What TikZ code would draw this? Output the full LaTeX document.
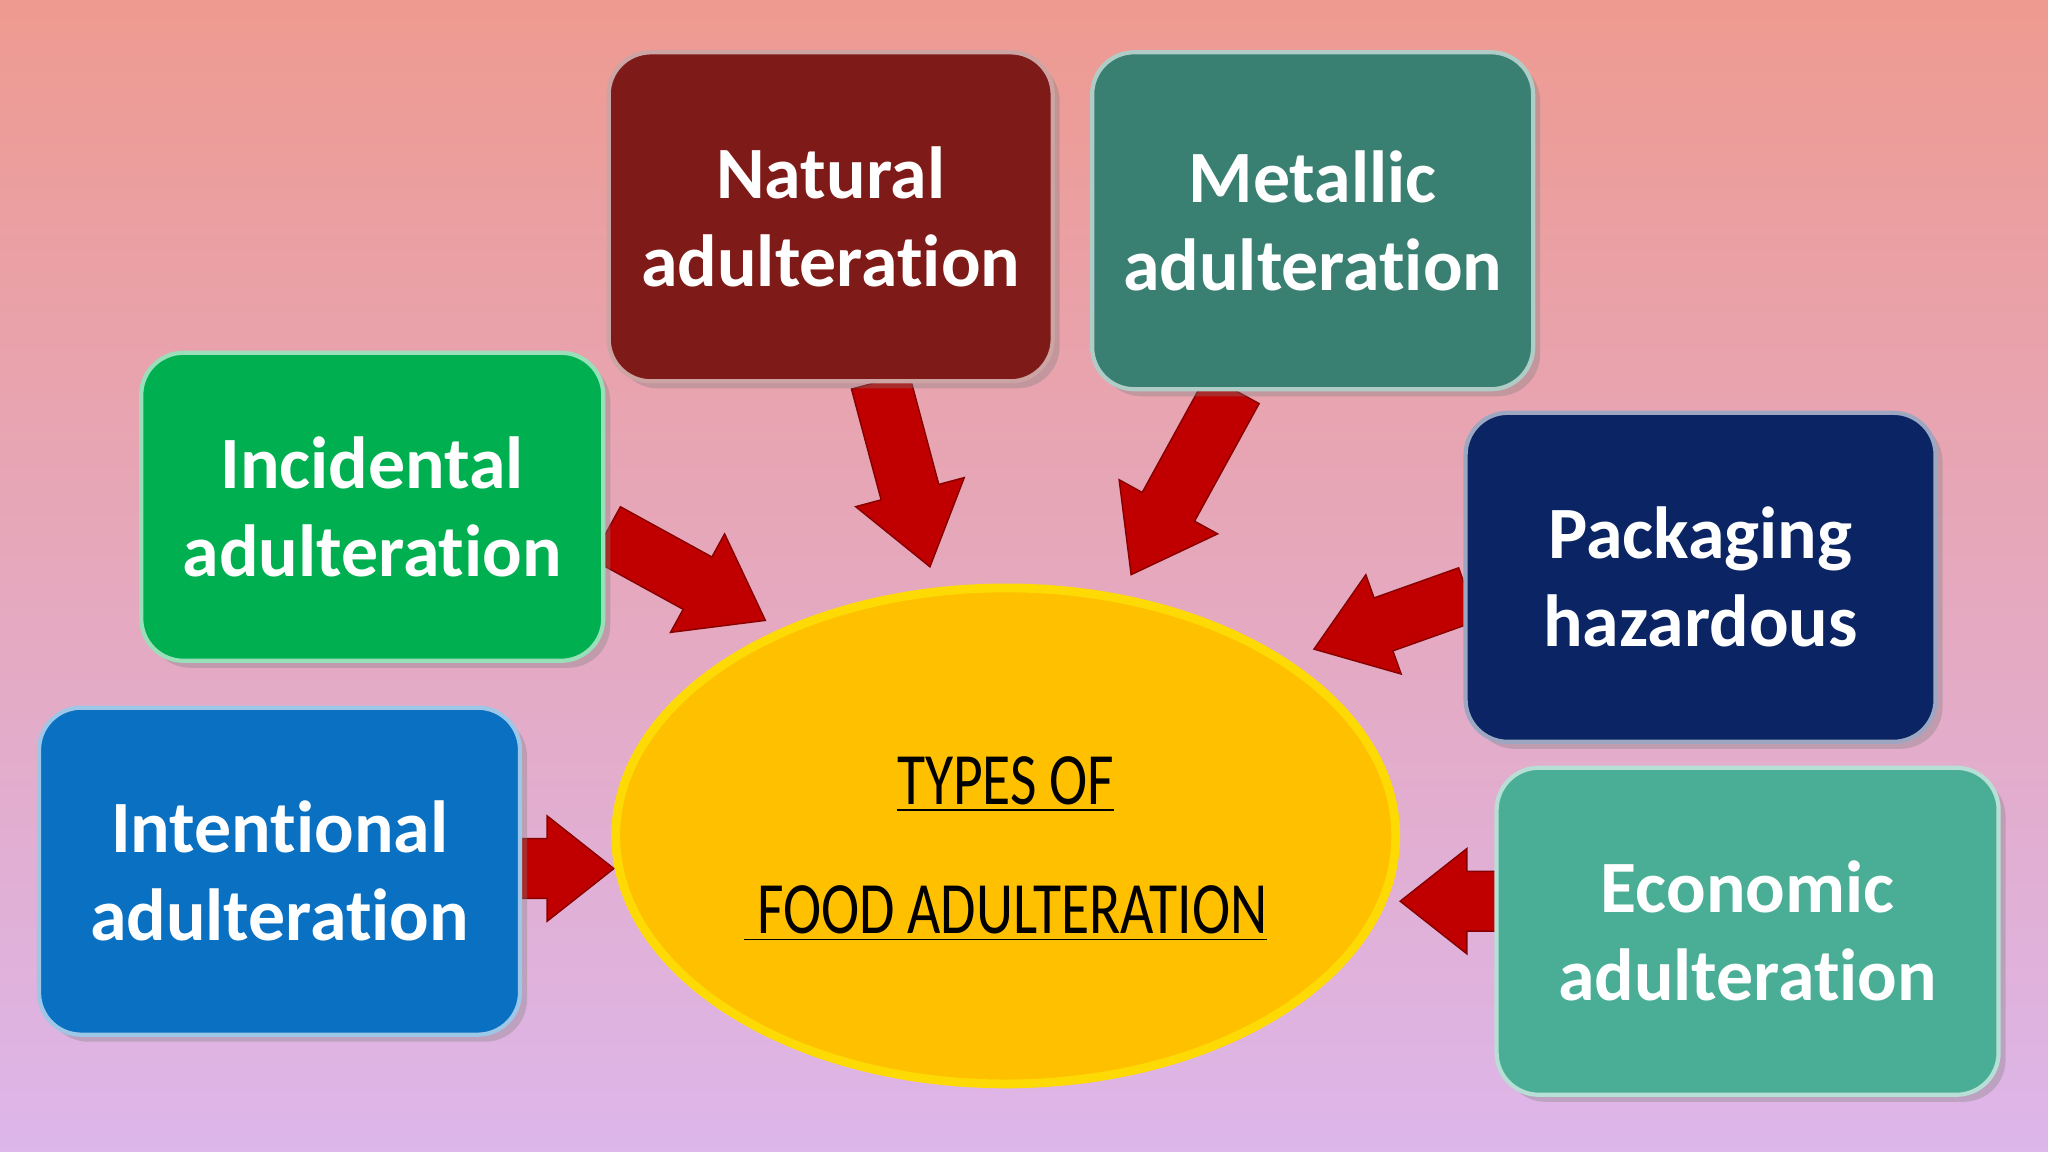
\documentclass[tikz,border=0pt]{standalone}
\usepackage{fontspec}
\setmainfont{Carlito}[RawFeature=-liga]
\newfontfamily\condfont[FakeStretch=0.78,RawFeature=-liga]{Carlito}
\usetikzlibrary{calc,shadows,shapes.geometric}
\definecolor{bgtop}{HTML}{EE9A90}
\definecolor{bgmid}{HTML}{E4A0C0}
\definecolor{bgbot}{HTML}{DDB6EA}
\definecolor{cnat}{HTML}{7E1B18}
\definecolor{cmet}{HTML}{3A8072}
\definecolor{cinc}{HTML}{00B050}
\definecolor{cpak}{HTML}{0B2464}
\definecolor{cint}{HTML}{0A70C2}
\definecolor{ceco}{HTML}{4AAE96}
\definecolor{cyel}{HTML}{FFC000}
\definecolor{carr}{HTML}{C00000}
\tikzset{
  x=0.013061cm, y=-0.013061cm,
  box/.style={draw=white!60!#1, line width=1.2pt, fill=#1, rounded corners=12pt,
    drop shadow={opacity=0.35, shadow xshift=2pt, shadow yshift=-2pt},
    text=white, font=\fontsize{21}{25}\selectfont\bfseries, align=center},
}
\newcommand\blockarrow[5]{%
  \fill[carr, draw=carr!70!black, line width=0.4pt] let \p1=(#1), \p2=(#2),
    \n1={atan2(\y2-\y1,\x2-\x1)}, \n2={veclen(\x2-\x1,\y2-\y1)} in
    ($(\p1)+(\n1+90:#3)$) -- ($(\p1)+(\n1:\n2-#5)+(\n1+90:#3)$) --
    ($(\p1)+(\n1:\n2-#5)+(\n1+90:#4)$) -- (\p2) --
    ($(\p1)+(\n1:\n2-#5)+(\n1-90:#4)$) -- ($(\p1)+(\n1:\n2-#5)+(\n1-90:#3)$) --
    ($(\p1)+(\n1-90:#3)$) -- cycle;}
\begin{document}
\begin{tikzpicture}
\shade[top color=bgtop, middle color=bgmid, bottom color=bgbot] (0,0) rectangle (1568,882);
\useasboundingbox (0,0) rectangle (1568,882);
% arrows
\coordinate (a1s) at (674,292); \coordinate (a1e) at (712,434);
\coordinate (a2s) at (944,298); \coordinate (a2e) at (866,440);
\coordinate (a3s) at (464,408); \coordinate (a3e) at (586,475);
\coordinate (a4s) at (1124,455); \coordinate (a4e) at (1006,497);
\coordinate (a5s) at (396,665); \coordinate (a5e) at (470,665);
\coordinate (a6s) at (1148,690); \coordinate (a6e) at (1072,690);
\blockarrow{a1s}{a1e}{8.5pt}{16pt}{22pt}
\blockarrow{a2s}{a2e}{8.5pt}{16pt}{22pt}
\blockarrow{a3s}{a3e}{8.5pt}{16pt}{22pt}
\blockarrow{a4s}{a4e}{8pt}{15pt}{21pt}
\blockarrow{a5s}{a5e}{8.5pt}{15pt}{19pt}
\blockarrow{a6s}{a6e}{8.5pt}{15pt}{19pt}
% ellipse
\node (center) [draw=yellow!55!cyel, line width=2.5pt, fill=cyel, ellipse,
  minimum width=7.8cm, minimum height=4.96cm, inner sep=0pt] at (770,640) {};
\node (ctext) at (770,650) [align=center, font=\condfont\fontsize{21}{24}\selectfont]
  {\underline{TYPES OF}\\[0.45cm] \underline{\ FOOD ADULTERATION}};
% boxes
\node (nat) [box=cnat, minimum width=4.44cm, minimum height=3.29cm] at (636,166) {Natural\\adulteration};
\node (met) [box=cmet, minimum width=4.41cm, minimum height=3.37cm] at (1005,169) {Metallic\\adulteration};
\node (inc) [box=cinc, minimum width=4.62cm, minimum height=3.08cm] at (285,388) {Incidental\\adulteration};
\node (pak) [box=cpak, minimum width=4.70cm, minimum height=3.29cm] at (1302,442) {Packaging\\hazardous};
\node (int) [box=cint, minimum width=4.81cm, minimum height=3.27cm] at (214,667) {Intentional\\adulteration};
\node (eco) [box=ceco, minimum width=5.02cm, minimum height=3.27cm] at (1338,713) {Economic\\adulteration};
\end{tikzpicture}
\end{document}
